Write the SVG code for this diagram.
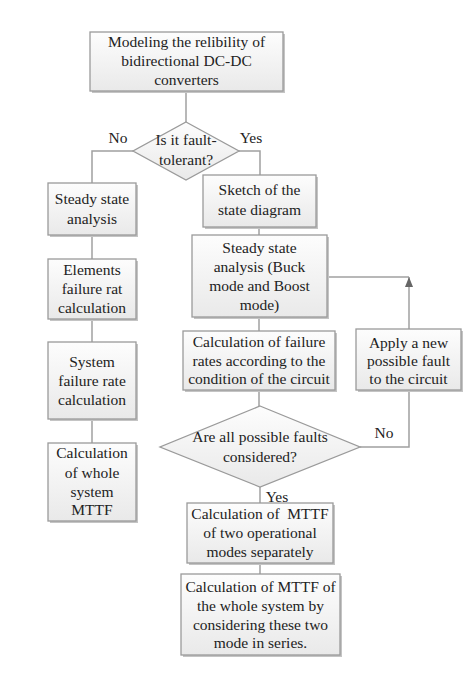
<svg xmlns="http://www.w3.org/2000/svg" width="474" height="682" viewBox="0 0 474 682">
<defs>
<linearGradient id="g" x1="0" y1="0" x2="0" y2="1">
<stop offset="0" stop-color="#fdfdfd"/>
<stop offset="1" stop-color="#e9e9e9"/>
</linearGradient>
<marker id="ah" markerWidth="11" markerHeight="8" refX="10" refY="4" orient="auto" markerUnits="userSpaceOnUse" viewBox="0 0 11 8">
<path d="M10,4 L0,0 L0,8 Z" fill="#666"/>
</marker>
</defs>
<style>
.box{fill:url(#g);stroke:#9a9a9a;stroke-width:1.3}
.sh{fill:#c4c4c4}
.dia{fill:url(#g);stroke:#9a9a9a;stroke-width:1.3}
.ln{fill:none;stroke:#a0a0a0;stroke-width:1.5}
text{font-size:15.5px;fill:#222;text-anchor:middle}
</style>
<rect width="474" height="682" fill="#fff"/>
<g font-family="'Liberation Serif', 'Times New Roman', 'DejaVu Serif', serif">
<g id="connectors">
<path class="ln" d="M186,91 V122"/>
<path class="ln" d="M133,151 H92 V183"/>
<path class="ln" d="M239,151 H260 V175"/>
<path class="ln" d="M92,235 V259"/>
<path class="ln" d="M92,319 V342"/>
<path class="ln" d="M92,419 V443"/>
<path class="ln" d="M259,227 V235"/>
<path class="ln" d="M259,317 V331"/>
<path class="ln" d="M327,277 H409"/>
<path class="ln" d="M409,329 V277" marker-end="url(#ah)"/>
<path class="ln" d="M259,390 V406"/>
<path class="ln" d="M409,390 V447 H360"/>
<path class="ln" d="M260,487 V503"/>
<path class="ln" d="M260,563 V574"/>
<text x="118" y="143">No</text>
<text x="251" y="143">Yes</text>
<text x="384" y="438">No</text>
<text x="277" y="502">Yes</text>
</g>
<g id="n-start">
<rect class="sh" x="92" y="34" width="193" height="59"/>
<rect class="box" x="90" y="32" width="193" height="59"/>
<text x="186.5" y="47">Modeling the relibility of</text>
<text x="186.5" y="66">bidirectional DC-DC</text>
<text x="186.5" y="85">converters</text>
</g>
<g id="d-fault">
<polygon class="dia" points="186,122 239,151 186,180 133,151"/>
<text x="186" y="145">Is it fault-</text>
<text x="186" y="165">tolerant?</text>
</g>
<g id="n-left1">
<rect class="sh" x="50" y="185" width="88" height="52"/>
<rect class="box" x="48" y="183" width="88" height="52"/>
<text x="92" y="204">Steady state</text>
<text x="92" y="224">analysis</text>
</g>
<g id="n-left2">
<rect class="sh" x="50" y="261" width="88" height="60"/>
<rect class="box" x="48" y="259" width="88" height="60"/>
<text x="92" y="275">Elements</text>
<text x="92" y="294">failure rat</text>
<text x="92" y="313">calculation</text>
</g>
<g id="n-left3">
<rect class="sh" x="50" y="344" width="88" height="77"/>
<rect class="box" x="48" y="342" width="88" height="77"/>
<text x="92" y="367">System</text>
<text x="92" y="386">failure rate</text>
<text x="92" y="405">calculation</text>
</g>
<g id="n-left4">
<rect class="sh" x="50" y="445" width="88" height="78"/>
<rect class="box" x="48" y="443" width="88" height="78"/>
<text x="92" y="458">Calculation</text>
<text x="92" y="478">of whole</text>
<text x="92" y="497">system</text>
<text x="92" y="515">MTTF</text>
</g>
<g id="n-sketch">
<rect class="sh" x="205" y="177" width="113" height="52"/>
<rect class="box" x="203" y="175" width="113" height="52"/>
<text x="259.5" y="195">Sketch of the</text>
<text x="259.5" y="215">state diagram</text>
</g>
<g id="n-steady">
<rect class="sh" x="194" y="237" width="135" height="82"/>
<rect class="box" x="192" y="235" width="135" height="82"/>
<text x="259.5" y="253">Steady state</text>
<text x="259.5" y="272">analysis (Buck</text>
<text x="259.5" y="291">mode and Boost</text>
<text x="259.5" y="310">mode)</text>
</g>
<g id="n-calc">
<rect class="sh" x="185" y="333" width="152" height="59"/>
<rect class="box" x="183" y="331" width="152" height="59"/>
<text x="259" y="347">Calculation of failure</text>
<text x="259" y="366">rates according to the</text>
<text x="259" y="384">condition of the circuit</text>
</g>
<g id="n-apply">
<rect class="sh" x="358" y="331" width="105" height="61"/>
<rect class="box" x="356" y="329" width="105" height="61"/>
<text x="408.5" y="348">Apply a new</text>
<text x="408.5" y="366">possible fault</text>
<text x="408.5" y="384">to the circuit</text>
</g>
<g id="d-all">
<polygon class="dia" points="260,406 360,447 260,487 160,447"/>
<text x="260" y="442">Are all possible faults</text>
<text x="260" y="462">considered?</text>
</g>
<g id="n-mttf2">
<rect class="sh" x="189" y="505" width="146" height="60"/>
<rect class="box" x="187" y="503" width="146" height="60"/>
<text x="260" y="519" xml:space="preserve">Calculation of  MTTF</text>
<text x="260" y="538">of two operational</text>
<text x="260" y="557">modes separately</text>
</g>
<g id="n-final">
<rect class="sh" x="183" y="576" width="159" height="81"/>
<rect class="box" x="181" y="574" width="159" height="81"/>
<text x="260.5" y="592">Calculation of MTTF of</text>
<text x="260.5" y="611">the whole system by</text>
<text x="260.5" y="630">considering these two</text>
<text x="260.5" y="648">mode in series.</text>
</g>
</g>
</svg>
